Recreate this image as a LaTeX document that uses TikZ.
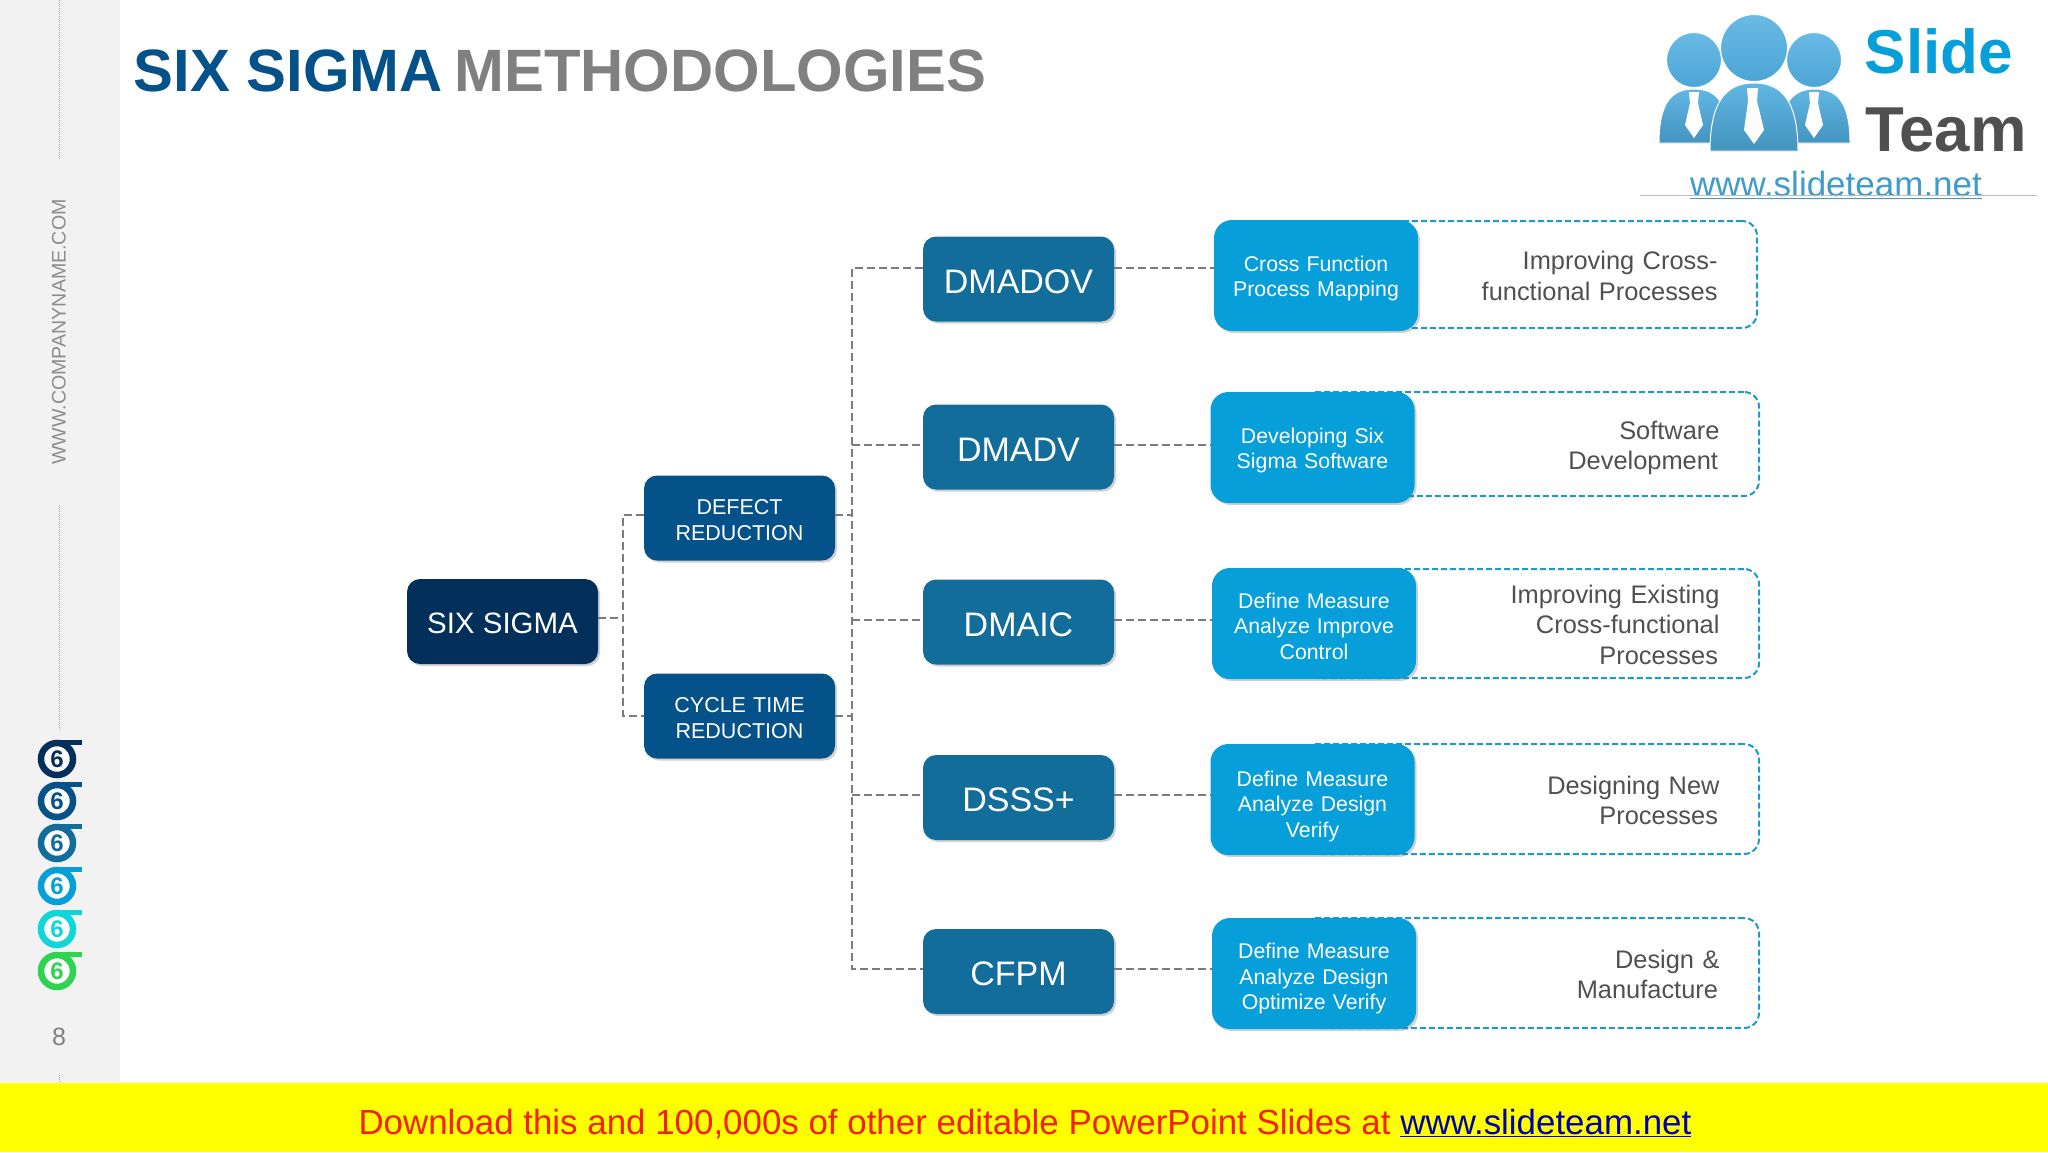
\documentclass[tikz,border=0pt]{standalone}
\usepackage{fontspec}
\setmainfont{Liberation Sans}
\usetikzlibrary{calc,shapes,shadows}
\definecolor{sigmaA}{HTML}{03305B}
\definecolor{sigmaB}{HTML}{05528A}
\definecolor{sigmaC}{HTML}{136D9A}
\definecolor{sigmaD}{HTML}{069FD9}
\definecolor{sigmaE}{HTML}{0FD6D8}
\definecolor{sigmaF}{HTML}{2FD352}
\definecolor{dashblue}{HTML}{1C9ACB}
\definecolor{urlblue}{HTML}{3F9BCB}
\definecolor{linkgray}{HTML}{7C7C7C}
\definecolor{textgray}{HTML}{505050}
\definecolor{logoblue}{HTML}{4FAEE0}
\definecolor{bannerbg}{HTML}{FFFF00}
\definecolor{bannerred}{HTML}{F52000}
\newcommand{\fsize}[1]{\fontsize{#1}{#1}\selectfont}
\newcommand{\sigmaicon}[3]{
  \node [sigmaring=#3] (#1) at (57,#2) {6};
  \fill [#3] (#1.north) rectangle ++(25,5);
}
\tikzset{
  lowtext/.style = {execute at begin node={\rule{0pt}{#1}}},
  treebox/.style = {shape=rectangle, rounded corners=13pt,
                    anchor=center, align=center, text=white,
                    minimum width=191pt, minimum height=85pt,
                    inner sep=2pt,
                    drop shadow={shadow xshift=2pt, shadow yshift=-2pt,
                                 opacity=.3, fill=black!60}},
  rootbox/.style = {treebox, fill=sigmaA, font=\fsize{29.5}, lowtext=25pt},
  goalbox/.style = {treebox, fill=sigmaB, lowtext=19.5pt, text width=185pt,
                    font=\fontsize{21.5}{25.5}\selectfont},
  methbox/.style = {treebox, fill=sigmaC, font=\fsize{34}, lowtext=29pt},
  toolbox/.style = {treebox, fill=sigmaD, rounded corners=18pt, text width=198pt,
                    minimum width=204pt, minimum height=111pt, lowtext=21pt,
                    font=\fontsize{21.3}{25.5}\selectfont},
  notebox/.style = {shape=rectangle, rounded corners=15pt, draw=dashblue,
                    line width=2pt, dash pattern=on 6pt off 3pt,
                    anchor=center, align=right, text=textgray,
                    minimum width=457pt, text width=378pt,
                    inner xsep=39.5pt, inner ysep=0pt, lowtext=21pt,
                    font=\fontsize{25.4}{30.5}\selectfont},
  link/.style    = {draw=linkgray, line width=2.3pt, dash pattern=on 8pt off 4pt},
  sigmaring/.style = {shape=circle, draw=#1, line width=6.5pt, fill=white,
                      minimum size=32pt, inner sep=0pt, outer sep=3.25pt, text=#1,
                      font=\bfseries\fsize{24}},
  tiepart/.style = {fill=white},
  body/.style    = {top color=logoblue!90, bottom color=logoblue!85!black,
                    draw=white, line width=1pt},
  head/.style    = {shape=circle, inner sep=0pt, draw=white, line width=1pt,
                    top color=logoblue!85, bottom color=logoblue!95!black},
}
\begin{document}
\begin{tikzpicture}[x=1pt,y=-1pt]
  \useasboundingbox (0,0) rectangle (2048,1152);
  \fill[black!5] (0,0) rectangle (120,1083);
  \fill[bannerbg] (0,1083) rectangle (2048,1152);

  \node [anchor=west,text=sigmaB,font=\bfseries\fsize{59.8}] (title) at (130,71)
    {SIX SIGMA\hspace{12pt}\textcolor{black!50}{METHODOLOGIES}};
  \node [rotate=90,text=black!45,font=\fsize{19.6}] (company) at (59,332) {WWW.COMPANYNAME.COM};
  \node [text=black!50,font=\fsize{25}] (pagenum) at (59,1037) {8};
  \draw[black!35,densely dotted,line width=1pt] (59,0) -- (59,160);
  \draw[black!35,densely dotted,line width=1pt] (59,505) -- (59,730);
  \draw[black!35,densely dotted,line width=1pt] (59,1075) -- (59,1083);

  \sigmaicon{iconA}{759}{sigmaA}
  \sigmaicon{iconB}{801}{sigmaB}
  \sigmaicon{iconC}{843}{sigmaC}
  \sigmaicon{iconD}{886}{sigmaD}
  \sigmaicon{iconE}{929}{sigmaE}
  \sigmaicon{iconF}{971}{sigmaF}

  \fill[body] (1659,143) .. controls (1659,102) and (1672,89) .. (1694,89)
    .. controls (1716,89) and (1729,102) .. (1729,143) -- cycle;
  \fill[body] (1780,143) .. controls (1780,102) and (1793,89) .. (1815,89)
    .. controls (1837,89) and (1850,102) .. (1850,143) -- cycle;
  \fill[body] (1710,151) .. controls (1710,100) and (1727,83) .. (1754,83)
    .. controls (1781,83) and (1798,100) .. (1798,151) -- cycle;
  \node [head,minimum size=55pt] (headL) at (1694,60) {};
  \node [head,minimum size=55pt] (headR) at (1814,60) {};
  \node [head,minimum size=67pt] (headC) at (1754,48) {};
  \fill[tiepart] (1689,92) -- (1699,92) -- (1698,103) -- (1703,125) -- (1694,138) -- (1685,125) -- (1690,103) -- cycle;
  \fill[tiepart] (1809,92) -- (1819,92) -- (1818,103) -- (1823,125) -- (1814,138) -- (1805,125) -- (1810,103) -- cycle;
  \fill[tiepart] (1747,88) -- (1758,88) -- (1757,101) -- (1764,130) -- (1754,144) -- (1744,130) -- (1748,101) -- cycle;
  \node [text=sigmaD,font=\bfseries\fsize{62}] (logoA) at (1939,51) {Slide};
  \node [text=textgray,font=\bfseries\fsize{63.5}] (logoB) at (1946,130) {Team};
  \node [text=urlblue,font=\fsize{35}] (logourl) at (1836,185) {\underline{www.slideteam.net}};
  \draw[black!25,line width=1pt] (1640,195) -- (2037,195);

  \node [rootbox] (sixsigma) at (502.5,621.5) {SIX SIGMA};
  \node [goalbox] (defect) at (739.5,518) {DEFECT\\REDUCTION};
  \node [goalbox] (cycletime) at (739.5,716) {CYCLE TIME\\REDUCTION};

  \node [methbox] (dmadov) at (1018.5,279) {DMADOV};
  \node [methbox] (dmadv) at (1018.5,447) {DMADV};
  \node [methbox] (dmaic) at (1018.5,622) {DMAIC};
  \node [methbox] (dsss) at (1018.5,797.5) {DSSS+};
  \node [methbox] (cfpm) at (1018.5,971.5) {CFPM};

  \node [notebox,minimum height=107pt] (noteA) at (1528.5,274.5) {Improving Cross-\\functional Processes};
  \node [notebox,minimum height=104pt,lowtext=26pt] (noteB) at (1530.5,444) {Software\hspace*{1.5pt}\\Development\hspace*{1.5pt}};
  \node [notebox,minimum height=109pt] (noteC) at (1530.5,623.5) {Improving Existing\hspace*{1.5pt}\\Cross-functional\hspace*{1.5pt}\\Processes\hspace*{1.5pt}};
  \node [notebox,minimum height=110pt] (noteD) at (1530.5,799) {Designing New\hspace*{1.5pt}\\Processes\hspace*{1.5pt}};
  \node [notebox,minimum height=110pt] (noteE) at (1530.5,973) {Design \&\hspace*{1.5pt}\\Manufacture\hspace*{1.5pt}};

  \node [toolbox] (toolA) at (1316,275.5) {Cross Function\\Process Mapping};
  \node [toolbox] (toolB) at (1312.5,447.5) {Developing Six\\Sigma Software};
  \node [toolbox] (toolC) at (1314,623.5) {Define Measure\\Analyze Improve\\Control};
  \node [toolbox,lowtext=29pt] (toolD) at (1312.5,799.5) {Define Measure\\Analyze Design\\Verify};
  \node [toolbox,lowtext=26pt] (toolE) at (1314,973.5) {Define Measure\\Analyze Design\\Optimize Verify};

  \coordinate (spine) at (623,618);
  \coordinate (trunk) at (852,620);
  \coordinate (rowA) at (852,268);
  \coordinate (rowB) at (852,445);
  \coordinate (rowD) at (852,795);
  \coordinate (rowE) at (852,969);
  \coordinate (goalA) at (852,515);
  \coordinate (goalB) at (852,716);

  \draw[link] (spine -| sixsigma.east) -- (spine);
  \draw[link] (goalA -| defect.west) -- (goalA -| spine) -- (goalB -| spine) -- (goalB -| cycletime.west);
  \draw[link] (goalA -| defect.east) -- (goalA);
  \draw[link] (goalB -| cycletime.east) -- (goalB);
  \draw[link] (dmadov.west |- rowA) -- (rowA) -- (rowE) -- (cfpm.west |- rowE);
  \draw[link] (rowB) -- (dmadv.west |- rowB);
  \draw[link] (trunk) -- (dmaic.west |- trunk);
  \draw[link] (rowD) -- (dsss.west |- rowD);
  \draw[link] (dmadov.east |- rowA) -- (toolA.west |- rowA);
  \draw[link] (dmadv.east |- rowB) -- (toolB.west |- rowB);
  \draw[link] (dmaic.east |- trunk) -- (toolC.west |- trunk);
  \draw[link] (dsss.east |- rowD) -- (toolD.west |- rowD);
  \draw[link] (cfpm.east |- rowE) -- (toolE.west |- rowE);

  \node [text=bannerred,font=\fsize{34.9},anchor=west] (banner) at (355,1124)
    {Download this and 100,000s of other editable PowerPoint Slides at \textcolor{blue!70!black}{\underline{www.slideteam.net}}};
\end{tikzpicture}
\end{document}
